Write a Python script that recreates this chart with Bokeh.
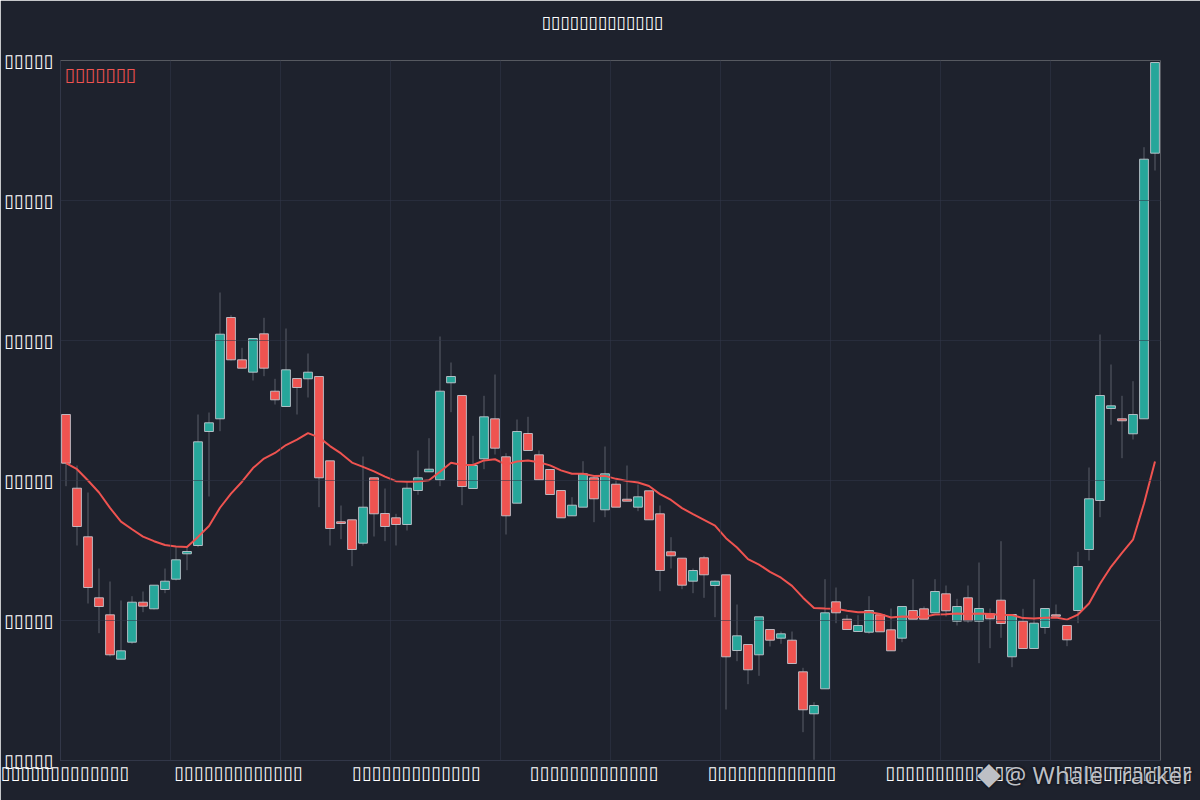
import pandas as pd
from bokeh.plotting import figure
from bokeh.models import Range1d, FixedTicker, CustomJSTickFormatter, Label, ColumnDataSource, Title
from bokeh.embed import file_html
from bokeh.resources import INLINE

BOX = "\u25AF"
title_text = BOX * 13
legend_text = BOX * 7
x_tick_labels = [BOX * 13] * 7
y_tick_labels = [BOX * 5] * 6
y_tick_values = [0, 140, 280, 420, 560, 700]
watermark_text = "@ Whale Tracker"
watermark_icon = "\u25C6"

opens = [346, 272.3, 223.7, 162.7, 145.7, 101.3, 118.3, 158.3, 151.7, 171,
         181.3, 206.7, 215, 329, 341.7, 443, 400.7, 388.3, 426.7, 369.3,
         354, 382, 381.7, 384, 299.7, 238.7, 240.7, 217.3, 282.7, 247,
         242.7, 236, 270, 288.7, 280.7, 377.7, 365, 272, 301.7, 341.7,
         303.7, 257.3, 327, 305.7, 291, 270, 244.7, 253.3, 282.7, 250.7,
         276.3, 261.3, 253.3, 269.7, 246.7, 208.7, 202.3, 179.3, 202.7, 175,
         185.7, 110, 116, 105.7, 131, 122.3, 120.3, 88.7, 46.7, 71.7,
         158.7, 141.3, 129, 128.3, 145.7, 130.7, 122.3, 150, 151.7, 147.7,
         166.7, 139.3, 162.7, 139.3, 146.7, 160.3, 103.7, 139.3, 112, 133,
         145.7, 135, 150, 211, 260, 352, 341.7, 326.7, 341.7, 607.3]

highs = [346, 295, 268, 192, 179, 160, 164.3, 169, 175.3, 192,
         213.3, 214.3, 346, 348, 468, 445.3, 412.7, 422, 442.7, 381.7,
         432, 382, 407, 384, 299.7, 255, 240.7, 304, 283, 272,
         246.7, 278.3, 310, 322.3, 424, 398, 365, 324.7, 364.7, 386,
         307.3, 341, 343.7, 310, 291, 270, 263.3, 299.3, 283.3, 314,
         280, 295, 276, 269.7, 255, 223.3, 202.3, 192, 204.7, 180,
         185.7, 156, 116, 143.7, 131, 129, 129, 92.7, 58.3, 181.3,
         173, 145.7, 145.3, 164.3, 145.7, 152, 154, 181.3, 154, 181.3,
         175, 161.7, 175, 198, 152, 219.3, 146, 151.7, 181.3, 152,
         156, 135, 208.7, 293, 426, 396, 364.7, 379.3, 613.3, 698]

lows = [274.3, 215, 157, 127.3, 104, 101.3, 116.7, 148.3, 151, 167.3,
        180, 190.3, 213.3, 264, 329.3, 400, 392, 380, 384.3, 356,
        354, 346, 363, 253.3, 215, 221.3, 194.3, 215, 224, 219.3,
        215, 230, 265.7, 288.7, 274.3, 348.3, 255.3, 272, 291.3, 306,
        226, 257.3, 310, 280.7, 266, 242.7, 244.7, 253.3, 238.3, 243.3,
        253.3, 259.3, 249.3, 240.7, 169.3, 192, 171.3, 167.3, 162.7, 143.3,
        51, 99.3, 76.3, 84.7, 114, 116.7, 97, 28.3, 0.7, 71.7,
        137.3, 131, 129, 126.7, 128.7, 109.7, 118.3, 141.3, 141.3, 147.7,
        144, 135, 137.7, 97.3, 112.3, 122.7, 93.3, 112, 112, 126.7,
        144.3, 114.3, 137.3, 200, 243.3, 335.7, 302.3, 321, 341.7, 590]

closes = [297.3, 234, 173, 154, 105.7, 109.7, 158.3, 154.3, 175.3, 179.3,
          200.7, 209, 318.7, 337.7, 426.3, 400.7, 392.3, 422, 392.3, 360.7,
          390.7, 373, 388.3, 282.7, 232, 237, 211, 253.3, 246.7, 234,
          236, 272.3, 282.7, 291.3, 369.3, 384, 274, 295, 343.7, 312.3,
          244.7, 329, 310, 280.7, 266, 242.7, 255.3, 286.7, 261.7, 286.7,
          253.3, 259.3, 263.7, 240.7, 190, 204.7, 175.3, 190, 185.7, 179.3,
          103.7, 124.7, 90.7, 143.7, 120.3, 126.7, 97, 50.7, 55, 147.7,
          147.7, 131, 135, 150, 128.7, 109.7, 154, 141.3, 141.3, 169,
          149.7, 154, 139.7, 152, 141.7, 137, 146, 112, 137.3, 152,
          144.3, 120.7, 194, 261.7, 365, 354.7, 339.7, 346, 601.3, 698]

UP = "#26a69a"
DOWN = "#ef5350"
BG = "#1e222d"
GRID = "#323748"
TEXT = "#ffffff"

df = pd.DataFrame({"open": opens, "high": highs, "low": lows, "close": closes})
df["idx"] = range(len(df))
df["top"] = df[["open", "close"]].max(axis=1)
df["bottom"] = df[["open", "close"]].min(axis=1)
df["color"] = [UP if c >= o else DOWN for o, c in zip(df["open"], df["close"])]
df["ema"] = df["close"].ewm(span=20, adjust=False).mean()
src = ColumnDataSource(df)

n = len(df)
p = figure(width=1200, height=800, output_backend="svg", toolbar_location=None,
           x_range=Range1d(-0.5, n - 0.5), y_range=Range1d(y_tick_values[0], y_tick_values[-1]),
           min_border_left=60, min_border_right=40, min_border_top=60, min_border_bottom=40)
p.background_fill_color = BG
p.border_fill_color = BG
p.outline_line_color = None

p.title.text = title_text
p.title.text_color = TEXT
p.title.text_font = "DejaVu Sans"
p.title.text_font_size = "17px"
p.title.text_font_style = "normal"
p.title.align = "left"
p.title.offset = 481
p.title.standoff = 4
# invisible spacer between the title and the plot frame
p.add_layout(Title(text=" ", text_font_size="16px", standoff=8), "above")

p.segment(x0="idx", y0="high", x1="idx", y1="low", source=src, line_color="#5b5f6b", line_width=1)
p.vbar(x="idx", width=0.8, top="top", bottom="bottom", source=src,
       fill_color="color", line_color="#c9ccd3", line_alpha=0.85, line_width=1)
p.line(x="idx", y="ema", source=src, line_color=DOWN, line_width=2)

x_ticks = [-0.5 + k * (n - 3) / 6 for k in range(7)]
p.xaxis.ticker = FixedTicker(ticks=x_ticks)
p.xaxis.formatter = CustomJSTickFormatter(args={"labels": x_tick_labels}, code="return labels[index] || '';")
p.yaxis.ticker = FixedTicker(ticks=y_tick_values)
p.yaxis.formatter = CustomJSTickFormatter(args={"labels": y_tick_labels}, code="return labels[index] || '';")

for ax in (p.xaxis[0], p.yaxis[0]):
    ax.axis_line_color = GRID
    ax.major_tick_line_color = None
    ax.minor_tick_line_color = None
    ax.major_tick_out = 0
    ax.major_tick_in = 0
    ax.minor_tick_out = 0
    ax.minor_tick_in = 0
    ax.major_label_text_color = TEXT
    ax.major_label_text_font = "DejaVu Sans"
    ax.major_label_text_font_size = "18px"
p.xaxis.major_label_standoff = 1
p.yaxis.major_label_standoff = 7

p.xgrid.ticker = FixedTicker(ticks=[-0.5 + 10 * k for k in range(11)])
p.ygrid.ticker = FixedTicker(ticks=y_tick_values)
for g in (p.xgrid[0], p.ygrid[0]):
    g.grid_line_color = GRID
    g.grid_line_alpha = 0.55
    g.level = "overlay"

p.add_layout(Label(x=-0.5, y=y_tick_values[-1], x_offset=4, y_offset=-3, text=legend_text,
                   text_color=DOWN, text_font="DejaVu Sans", text_font_size="18.5px",
                   text_baseline="top", text_align="left"))

html = file_html(p, INLINE)
html = html.replace("<body>", '<body style="margin:0;background:#1e222d;overflow:hidden">', 1)
watermark = (
    '<div style="position:absolute;right:8px;top:759px;font-family:\'Noto Sans\';font-size:24px;'
    'line-height:28px;color:rgba(214,216,222,0.88);white-space:nowrap;pointer-events:none;'
    'text-shadow:0 0 2px #10121a,0 0 3px #10121a;">'
    '<span style="font-family:\'DejaVu Sans\';font-size:31px;margin-right:4px;">'
    + watermark_icon + '</span>' + watermark_text + '</div>'
)
html = html.replace("</body>", watermark + "</body>", 1)
open("out.html", "w").write(html)
